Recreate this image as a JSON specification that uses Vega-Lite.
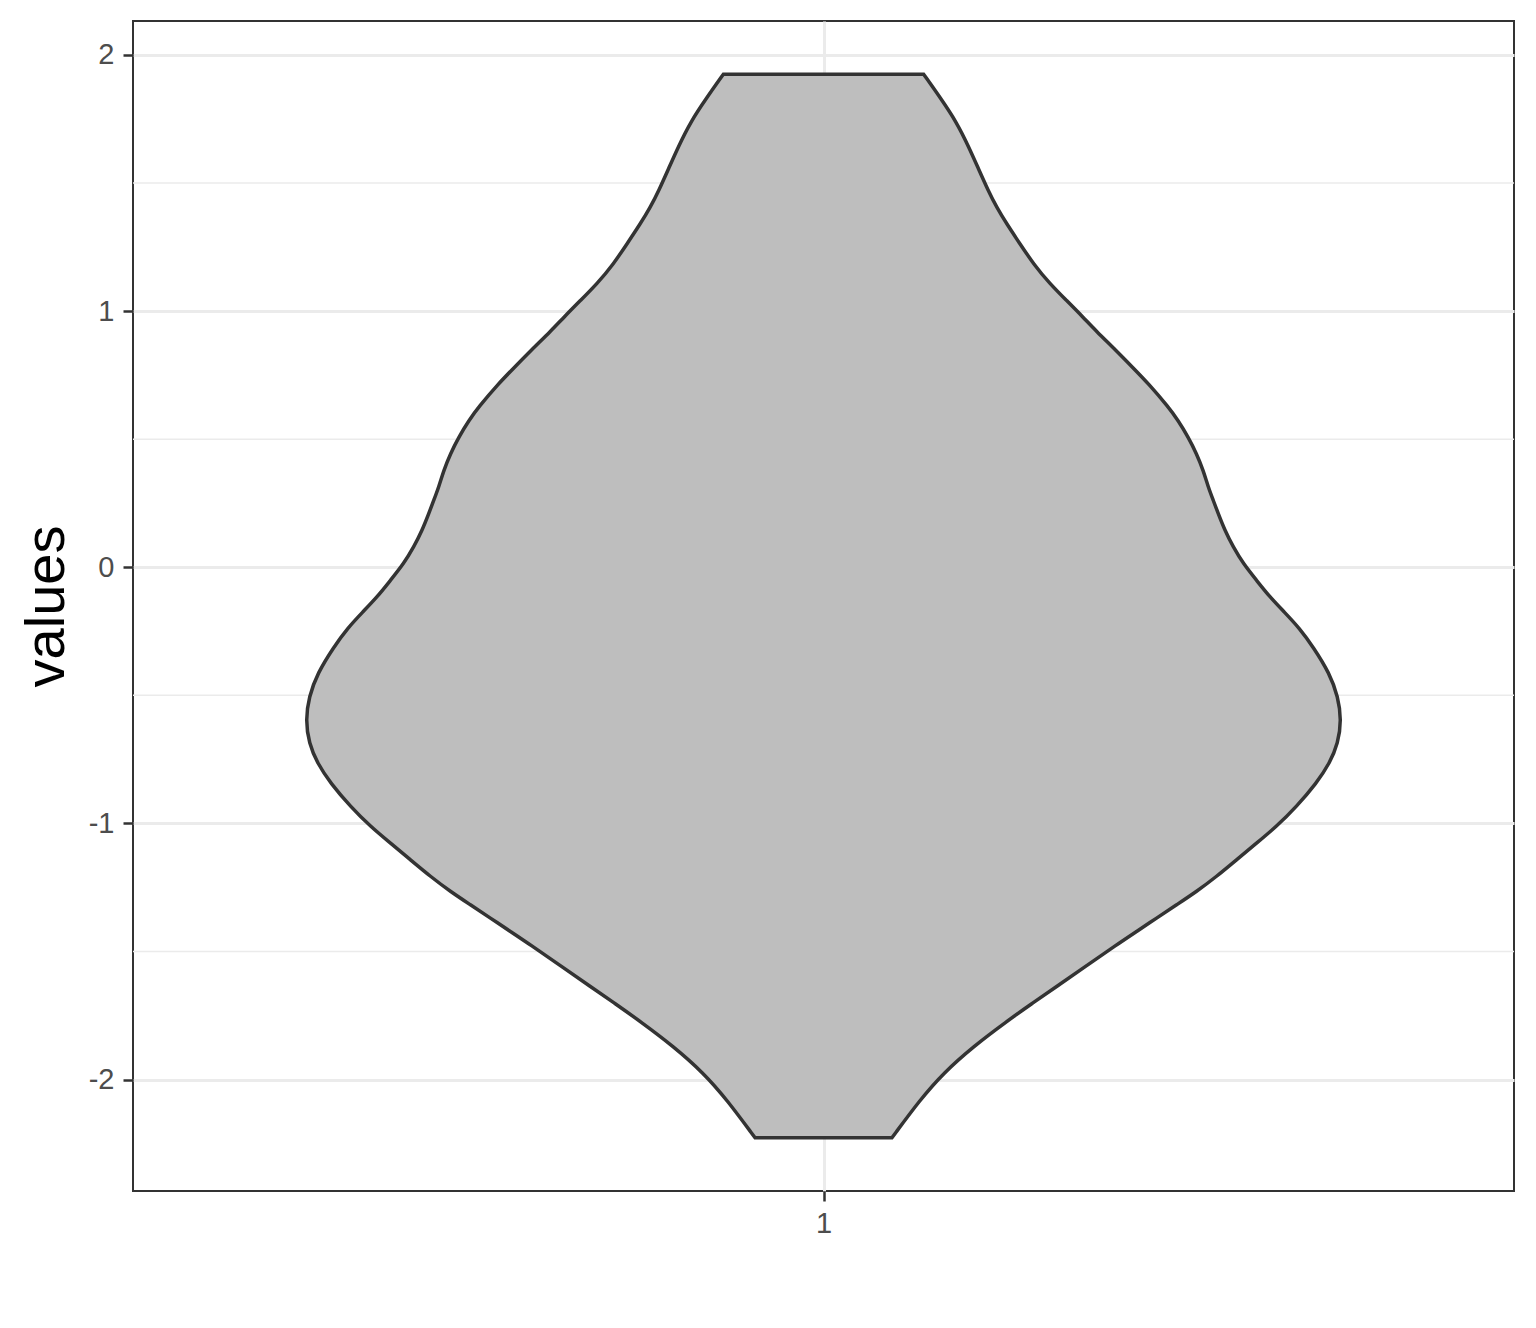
{
  "$schema": "https://vega.github.io/schema/vega-lite/v6.json",
  "width": 1381,
  "height": 1170,
  "autosize": {"type": "none"},
  "padding": {"left": 133, "top": 21, "right": 22, "bottom": 137},
  "background": "white",
  "config": {
    "view": {"stroke": "#333333", "strokeWidth": 2},
    "font": "Liberation Sans",
    "axis": {
      "domain": false,
      "gridColor": "#EBEBEB",
      "gridWidth": 3,
      "tickColor": "#333333",
      "tickWidth": 2.5,
      "tickSize": 10,
      "labelFont": "Liberation Sans",
      "labelFontSize": 29,
      "labelColor": "#4D4D4D",
      "titleFont": "Liberation Sans",
      "titleFontWeight": "normal",
      "titleColor": "#000000"
    }
  },
  "layer": [
    {
      "data": {"values": [{"value": -1.5}, {"value": -0.5}, {"value": 0.5}, {"value": 1.5}]},
      "mark": {"type": "rule", "color": "#EBEBEB", "strokeWidth": 1.5},
      "encoding": {
        "y": {"field": "value", "type": "quantitative"}
      }
    },
    {
      "data": {
        "values": [
          {"value": -2.2273, "density": 0.1321},
          {"value": -2.078, "density": 0.1867},
          {"value": -1.9739, "density": 0.2318},
          {"value": -1.8702, "density": 0.2897},
          {"value": -1.7727, "density": 0.3539},
          {"value": -1.7037, "density": 0.4021},
          {"value": -1.6363, "density": 0.4503},
          {"value": -1.5583, "density": 0.5060},
          {"value": -1.4737, "density": 0.5661},
          {"value": -1.4218, "density": 0.6046},
          {"value": -1.3696, "density": 0.6432},
          {"value": -1.3177, "density": 0.6818},
          {"value": -1.2659, "density": 0.7204},
          {"value": -1.2074, "density": 0.7589},
          {"value": -1.1423, "density": 0.7975},
          {"value": -1.0772, "density": 0.8361},
          {"value": -1.0125, "density": 0.8746},
          {"value": -0.9345, "density": 0.9132},
          {"value": -0.8433, "density": 0.9518},
          {"value": -0.7653, "density": 0.9774},
          {"value": -0.6873, "density": 0.9936},
          {"value": -0.5965, "density": 1.0},
          {"value": -0.5057, "density": 0.9936},
          {"value": -0.4144, "density": 0.9774},
          {"value": -0.3107, "density": 0.9454},
          {"value": -0.239, "density": 0.9196},
          {"value": -0.1754, "density": 0.8901},
          {"value": -0.1158, "density": 0.8617},
          {"value": -0.0507, "density": 0.8361},
          {"value": 0.0144, "density": 0.8104},
          {"value": 0.0791, "density": 0.7911},
          {"value": 0.1443, "density": 0.7749},
          {"value": 0.2094, "density": 0.7622},
          {"value": 0.2612, "density": 0.7526},
          {"value": 0.3131, "density": 0.7429},
          {"value": 0.3782, "density": 0.7333},
          {"value": 0.4433, "density": 0.7204},
          {"value": 0.508, "density": 0.7043},
          {"value": 0.5731, "density": 0.6848},
          {"value": 0.625, "density": 0.6661},
          {"value": 0.7162, "density": 0.6278},
          {"value": 0.7809, "density": 0.5966},
          {"value": 0.846, "density": 0.5651},
          {"value": 0.924, "density": 0.5256},
          {"value": 0.9758, "density": 0.5014},
          {"value": 1.0409, "density": 0.4696},
          {"value": 1.1061, "density": 0.4374},
          {"value": 1.184, "density": 0.4054},
          {"value": 1.262, "density": 0.3796},
          {"value": 1.34, "density": 0.3539},
          {"value": 1.4047, "density": 0.3345},
          {"value": 1.4698, "density": 0.3182},
          {"value": 1.5606, "density": 0.2982},
          {"value": 1.6386, "density": 0.2810},
          {"value": 1.7361, "density": 0.2575},
          {"value": 1.8335, "density": 0.2253},
          {"value": 1.9248, "density": 0.1933}
        ]
      },
      "mark": {
        "type": "area",
        "orient": "horizontal",
        "interpolate": "basis",
        "fill": "#BEBEBE",
        "stroke": "#333333",
        "strokeWidth": 3.5,
        "strokeJoin": "miter"
      },
      "encoding": {
        "y": {
          "field": "value",
          "type": "quantitative",
          "scale": {"domain": [-2.435, 2.1324], "nice": false, "zero": false},
          "axis": {
            "title": "values",
            "titleFontSize": 56,
            "titleX": -70,
            "titleY": 585,
            "titleAngle": -90,
            "titleAlign": "center",
            "titleBaseline": "alphabetic",
            "values": [-2, -1, 0, 1, 2],
            "labelExpr": "'' + datum.value",
            "labelPadding": 9,
            "grid": true
          }
        },
        "x": {
          "field": "density",
          "type": "quantitative",
          "stack": "center",
          "scale": {"domain": [-0.166667, 1.166667], "nice": false, "zero": false},
          "axis": {
            "title": null,
            "values": [0.5],
            "labelExpr": "'1'",
            "labelPadding": 8,
            "grid": true
          }
        }
      }
    }
  ]
}
